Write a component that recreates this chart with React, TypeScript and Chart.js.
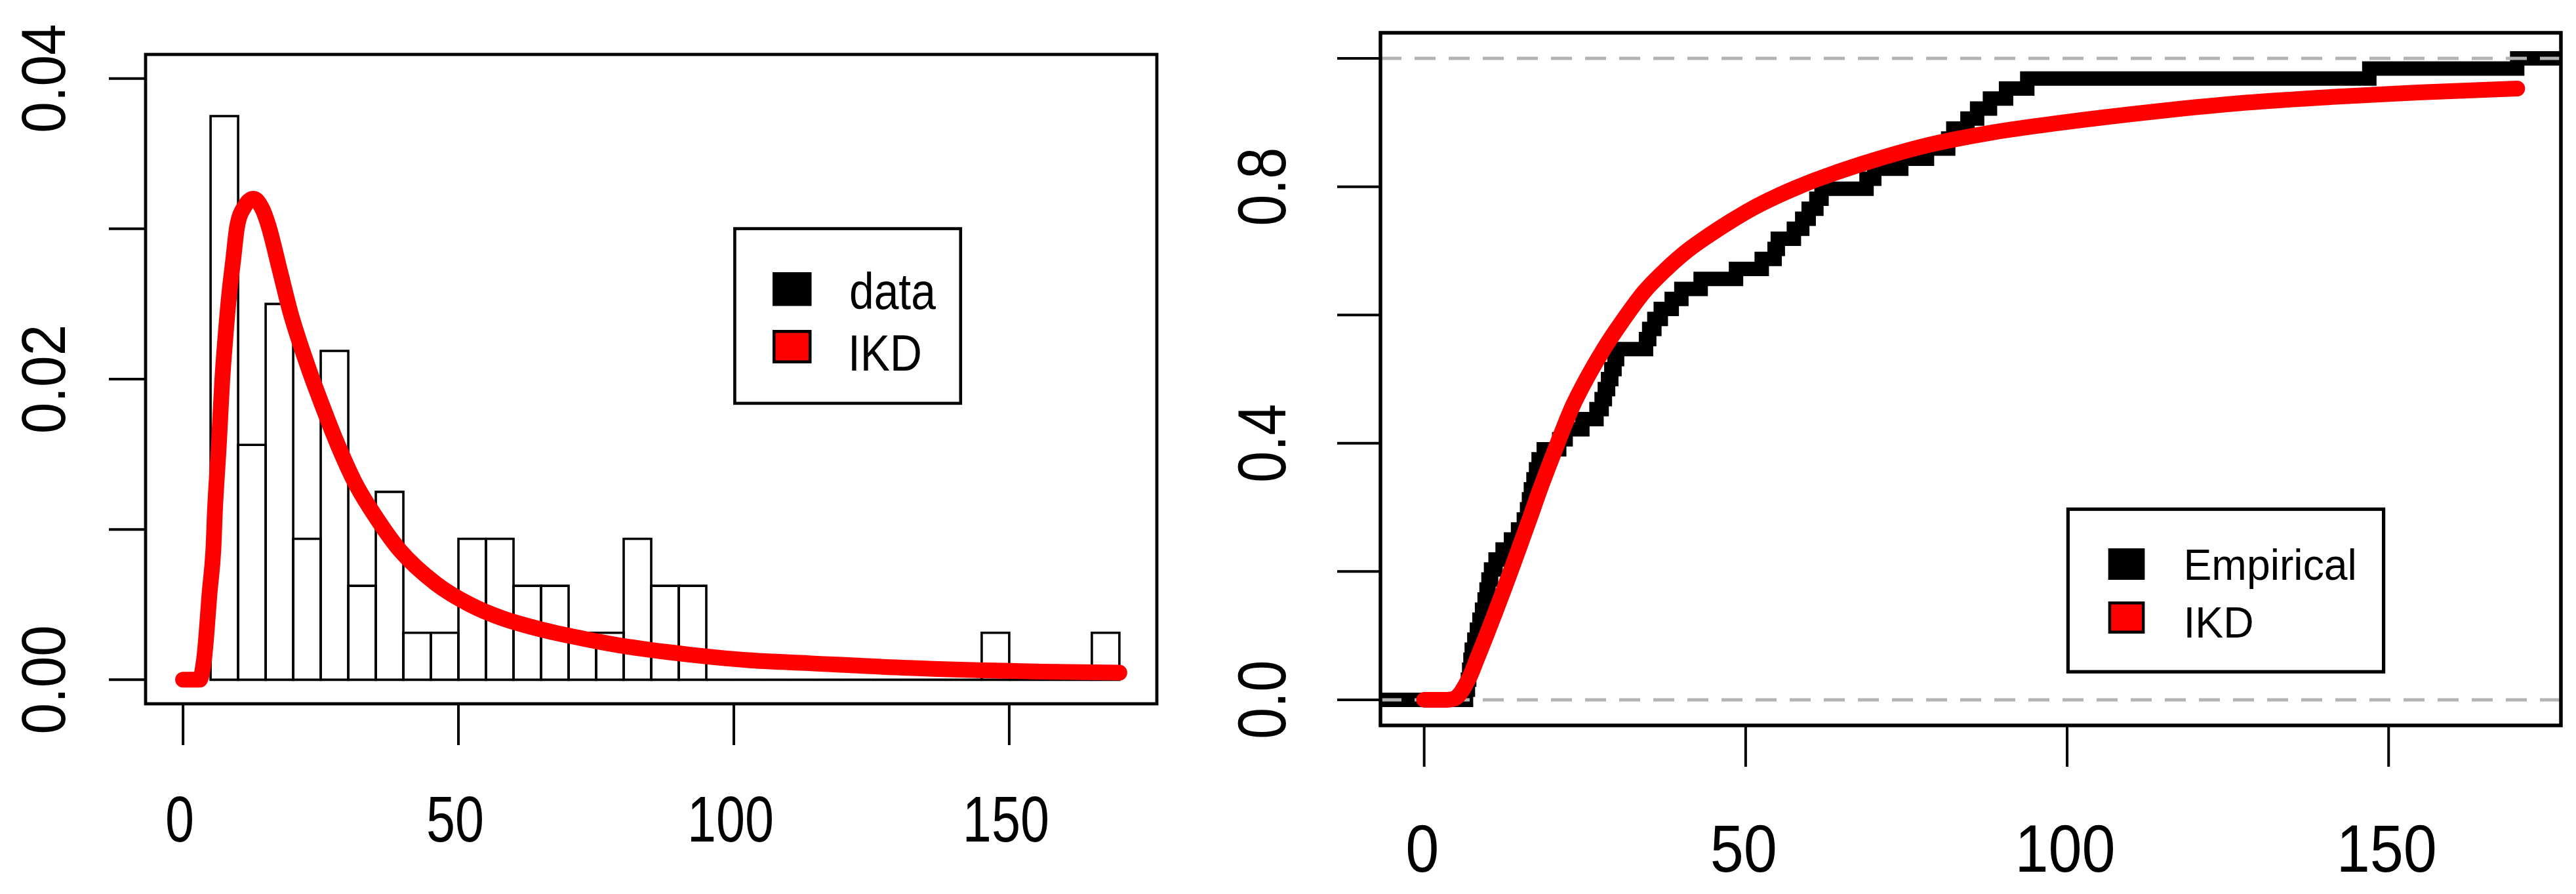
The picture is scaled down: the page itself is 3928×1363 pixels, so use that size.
import React, { useEffect, useRef } from 'react';
import { Chart, registerables } from 'chart.js';

Chart.register(...registerables);

const FONT = '"Liberation Sans", Arial, Helvetica, sans-serif';

// ---------- data: histogram (left panel) ----------
const binEdges = [5, 10, 15, 20, 25, 30, 35, 40, 45, 50, 55, 60, 65, 70, 75, 80, 85, 90, 95, 100, 105, 110, 115, 120, 125, 130, 135, 140, 145, 150, 155, 160, 165, 170];
const binCounts = [12, 5, 8, 3, 7, 2, 4, 1, 1, 3, 3, 2, 2, 1, 1, 3, 2, 2, 0, 0, 0, 0, 0, 0, 0, 0, 0, 0, 1, 0, 0, 0, 1];

// ---------- data: fitted IKD density (left panel) ----------
const pdfX = [0, 3.0, 3.8, 4.2, 4.8, 5.5, 5.8, 6.5, 7.1, 7.7, 8.4, 9.1, 9.8, 11.2, 12.8, 14.3, 15.6, 17.6, 19.6, 22.7, 24.7, 27.9, 31.1, 33.8, 39.4, 45.9, 52.1, 57.9, 65.5, 73.1, 80.7, 93.7, 102.6, 113.6, 130.6, 155.9, 170];
const pdfY = [0, 0, 0.0013, 0.0028, 0.0057, 0.0086, 0.0113, 0.0156, 0.0198, 0.0228, 0.0257, 0.0279, 0.0301, 0.0315, 0.0320, 0.0314, 0.0301, 0.0272, 0.0243, 0.0208, 0.0188, 0.0158, 0.0132, 0.0115, 0.0086, 0.0064, 0.0050, 0.0041, 0.0033, 0.0027, 0.0022, 0.0016, 0.0013, 0.0011, 0.0008, 0.00054, 0.00047];

// ---------- data: observed sample (right panel ECDF) ----------
const sample = [
  6.5, 6.8, 7.0, 7.2, 7.4, 7.8, 8.2, 8.6, 9.0, 9.4, 9.7, 10.0,
  10.4, 11.1, 12.2, 13.5, 14.6,
  15.5, 16.0, 16.3, 16.6, 17.0, 17.4, 17.8, 18.6,
  21.0, 22.0, 24.6,
  26.8, 27.6, 28.1, 28.6, 29.1, 29.6, 30.0,
  34.5, 35.0,
  35.8, 36.8, 38.5, 40.0,
  43.0,
  48.5,
  52.5, 54.5, 55.0,
  57.5, 58.8, 59.8,
  61.0, 61.8,
  68.8, 70.0,
  74.2,
  78.2,
  81.5, 82.3, 84.5,
  86.0, 88.0,
  90.5, 93.8,
  147.0,
  170.0,
];

// ---------- data: fitted IKD CDF (right panel) ----------
const cdfX = [0, 3.5, 4.9, 7.0, 8.3, 9.7, 11.0, 12.4, 13.8, 15.1, 16.5, 17.9, 19.2, 20.9, 23.0, 25.5, 28.0, 30.8, 34.2, 37.6, 40.9, 44.4, 47.8, 51.2, 54.6, 58.0, 60.7, 68.2, 78.4, 88.6, 98.4, 114.4, 127.8, 141.2, 154.5, 170];
const cdfY = [0, 0, 0.003, 0.034, 0.066, 0.101, 0.135, 0.172, 0.21, 0.246, 0.285, 0.325, 0.36, 0.404, 0.456, 0.505, 0.548, 0.590, 0.636, 0.671, 0.700, 0.725, 0.747, 0.767, 0.784, 0.799, 0.81, 0.836, 0.865, 0.885, 0.899, 0.918, 0.931, 0.94, 0.947, 0.953];

// ---------- axes ----------
const xLimits = [-6.8, 176.8];
const densityLimits = [-0.0016, 0.0416];
const probLimits = [-0.04, 1.04];
const xTickValues = [0, 50, 100, 150];
const xTickLabels = ['0', '50', '100', '150'];
const densityTickValues = [0, 0.01, 0.02, 0.03, 0.04];
const densityTickLabels = ['0.00', '', '0.02', '', '0.04'];
const probTickValues = [0, 0.2, 0.4, 0.6, 0.8, 1.0];
const probTickLabels = ['0.0', '', '0.4', '', '0.8', ''];
const refLines = [0, 1];

const legendLeftLabels = ['data', 'IKD'];
const legendRightLabels = ['Empirical', 'IKD'];

const RED = '#FF0000';
const BLACK = '#000000';
const GREY = '#B3B3B3';

function drawLabel(ctx: any, text: string, x: number, y: number, size: number, condense: number, rotated: boolean, align: string) {
  if (!text) return;
  ctx.save();
  ctx.translate(x, y);
  if (rotated) ctx.rotate(-Math.PI / 2);
  ctx.scale(condense, 1);
  ctx.font = `${size}px ${FONT}`;
  ctx.textAlign = align;
  ctx.textBaseline = 'alphabetic';
  ctx.fillStyle = BLACK;
  ctx.fillText(text, 0, 0);
  ctx.restore();
}

function makeRPlugin(cfg: any) {
  return {
    id: 'rstyle',
    afterDatasetDraw(chart: any, args: any) {
      if (cfg.outlineIndex === undefined || args.index !== cfg.outlineIndex) return;
      const ctx = chart.ctx;
      const meta = chart.getDatasetMeta(args.index);
      ctx.save();
      ctx.strokeStyle = BLACK;
      ctx.lineWidth = cfg.outlineWidth;
      ctx.lineJoin = 'miter';
      meta.data.forEach((el: any) => {
        const p = el.getProps(['x', 'y', 'base', 'width'], true);
        const l = p.x - p.width / 2;
        const r = p.x + p.width / 2;
        ctx.beginPath();
        ctx.moveTo(l, p.base);
        ctx.lineTo(l, p.y);
        ctx.lineTo(r, p.y);
        ctx.lineTo(r, p.base);
        ctx.closePath();
        ctx.stroke();
      });
      ctx.restore();
    },
    afterDraw(chart: any) {
      const ctx = chart.ctx;
      const a = chart.chartArea;
      const xs = chart.scales.x;
      const ys = chart.scales.y;
      ctx.save();
      ctx.strokeStyle = BLACK;
      ctx.lineCap = 'butt';
      // plot box
      ctx.lineWidth = cfg.boxWidth;
      ctx.strokeRect(a.left, a.top, a.right - a.left, a.bottom - a.top);
      // x axis ticks + labels
      ctx.lineWidth = cfg.tickWidth;
      cfg.xTicks.forEach((v: number, i: number) => {
        const px = xs.getPixelForValue(v);
        ctx.beginPath();
        ctx.moveTo(px, a.bottom);
        ctx.lineTo(px, a.bottom + cfg.xTickLen);
        ctx.stroke();
        drawLabel(ctx, cfg.xLabels[i], px + cfg.xLabelShift, cfg.xLabelBaseline, cfg.xFont, cfg.xCondense, false, 'center');
      });
      // y axis ticks + labels
      cfg.yTicks.forEach((v: number, i: number) => {
        const py = ys.getPixelForValue(v);
        ctx.beginPath();
        ctx.moveTo(a.left, py);
        ctx.lineTo(a.left - cfg.yTickLen, py);
        ctx.stroke();
        drawLabel(ctx, cfg.yLabels[i], cfg.yLabelBaselineX, py, cfg.yFont, cfg.yCondense, true, 'center');
      });
      // legend
      const lg = cfg.legend;
      ctx.lineWidth = lg.boxWidth;
      ctx.strokeRect(lg.box[0], lg.box[1], lg.box[2] - lg.box[0], lg.box[3] - lg.box[1]);
      lg.rows.forEach((row: any) => {
        const [x1, x2] = lg.swatchX;
        ctx.fillStyle = BLACK;
        ctx.fillRect(x1, row.y1, x2 - x1, row.y2 - row.y1);
        const b = lg.swatchBorder;
        ctx.fillStyle = row.fill;
        ctx.fillRect(x1 + b, row.y1 + b, x2 - x1 - 2 * b, row.y2 - row.y1 - 2 * b);
        drawLabel(ctx, row.label, row.textX, row.baseline, lg.font, lg.condense, false, 'left');
      });
      ctx.restore();
    },
  };
}

function leftConfig() {
  const n = binCounts.reduce((s, c) => s + c, 0);
  const bars = binCounts.map((c, i) => {
    const w = binEdges[i + 1] - binEdges[i];
    return { x: (binEdges[i] + binEdges[i + 1]) / 2, y: c / (n * w) };
  });
  const plugin = makeRPlugin({
    boxWidth: 4.8,
    tickWidth: 4,
    xTicks: xTickValues,
    xLabels: xTickLabels,
    xTickLen: 63,
    xLabelBaseline: 1283,
    xLabelShift: -5,
    xFont: 99,
    xCondense: 0.8,
    yTicks: densityTickValues,
    yLabels: densityTickLabels,
    yTickLen: 56,
    yLabelBaselineX: 99,
    yFont: 95,
    yCondense: 0.9,
    outlineIndex: 1,
    outlineWidth: 3.6,
    legend: {
      box: [1120.4, 348.6, 1464.8, 614.9],
      boxWidth: 4.6,
      swatchX: [1178, 1237.5],
      swatchBorder: 4.6,
      font: 77,
      condense: 0.88,
      rows: [
        { label: legendLeftLabels[0], fill: BLACK, y1: 415, y2: 466.5, textX: 1295, baseline: 471.4 },
        { label: legendLeftLabels[1], fill: RED, y1: 503, y2: 554, textX: 1293, baseline: 564.7 },
      ],
    },
  });
  return {
    type: 'line',
    data: {
      datasets: [
        {
          type: 'line',
          label: legendLeftLabels[1],
          data: pdfX.map((x, i) => ({ x, y: pdfY[i] })),
          borderColor: RED,
          backgroundColor: RED,
          borderWidth: 24,
          pointRadius: 0,
          fill: false,
          cubicInterpolationMode: 'monotone',
          borderCapStyle: 'round',
          borderJoinStyle: 'round',
        },
        {
          type: 'bar',
          label: legendLeftLabels[0],
          data: bars,
          backgroundColor: 'rgba(0,0,0,0)',
          borderWidth: 0,
          barPercentage: 1,
          categoryPercentage: 1,
        },
      ],
    },
    options: {
      animation: false,
      responsive: false,
      devicePixelRatio: 1,
      events: [],
      layout: { padding: { left: 222, top: 83, right: 1850 - 1764, bottom: 1363 - 1073 } },
      scales: {
        x: { type: 'linear', min: xLimits[0], max: xLimits[1], display: false, offset: false },
        y: { type: 'linear', min: densityLimits[0], max: densityLimits[1], display: false },
      },
      plugins: { legend: { display: false }, tooltip: { enabled: false }, title: { display: false } },
    },
    plugins: [plugin],
  };
}

function rightConfig() {
  const n = sample.length;
  const sorted = [...sample].sort((a, b) => a - b);
  const ecdf = [
    { x: xLimits[0], y: 0 },
    ...sorted.map((v, i) => ({ x: v, y: (i + 1) / n })),
    { x: xLimits[1], y: 1 },
  ];
  const plugin = makeRPlugin({
    boxWidth: 5.5,
    tickWidth: 4,
    xTicks: xTickValues,
    xLabels: xTickLabels,
    xTickLen: 63,
    xLabelBaseline: 1329,
    xLabelShift: -3,
    xFont: 102,
    xCondense: 0.9,
    yTicks: probTickValues,
    yLabels: probTickLabels,
    yTickLen: 66,
    yLabelBaselineX: 110,
    yFont: 103,
    yCondense: 0.84,
    legend: {
      box: [1303.4, 776.3, 1784.6, 1024.2],
      boxWidth: 5.2,
      swatchX: [1364.7, 1420.4],
      swatchBorder: 4.5,
      font: 67,
      condense: 0.96,
      rows: [
        { label: legendRightLabels[0], fill: BLACK, y1: 836, y2: 884, textX: 1479.4, baseline: 883.8 },
        { label: legendRightLabels[1], fill: RED, y1: 917, y2: 966, textX: 1479.4, baseline: 971.8 },
      ],
    },
  });
  const refDatasets = refLines.map((v) => ({
    type: 'line',
    label: 'ref' + v,
    data: [{ x: xLimits[0], y: v }, { x: xLimits[1], y: v }],
    borderColor: GREY,
    borderWidth: 5,
    borderDash: [32, 20],
    pointRadius: 0,
    fill: false,
  }));
  return {
    type: 'line',
    data: {
      datasets: [
        {
          type: 'line',
          label: legendRightLabels[1],
          data: cdfX.map((x, i) => ({ x, y: cdfY[i] })),
          borderColor: RED,
          backgroundColor: RED,
          borderWidth: 24,
          pointRadius: 0,
          fill: false,
          cubicInterpolationMode: 'monotone',
          borderCapStyle: 'round',
          borderJoinStyle: 'round',
        },
        ...refDatasets,
        {
          type: 'line',
          label: legendRightLabels[0],
          data: ecdf,
          borderColor: BLACK,
          backgroundColor: BLACK,
          borderWidth: 22,
          pointRadius: 0,
          fill: false,
          stepped: 'before',
          borderCapStyle: 'butt',
          borderJoinStyle: 'miter',
        },
      ],
    },
    options: {
      animation: false,
      responsive: false,
      devicePixelRatio: 1,
      events: [],
      layout: { padding: { left: 2105 - 1850, top: 50, right: 3928 - 3905, bottom: 1363 - 1106 } },
      scales: {
        x: { type: 'linear', min: xLimits[0], max: xLimits[1], display: false, offset: false },
        y: { type: 'linear', min: probLimits[0], max: probLimits[1], display: false },
      },
      plugins: { legend: { display: false }, tooltip: { enabled: false }, title: { display: false } },
    },
    plugins: [plugin],
  };
}

function ChartCanvas(props: { left: number; width: number; height: number; make: () => any }) {
  const ref = useRef<HTMLCanvasElement | null>(null);
  useEffect(() => {
    const chart = new Chart(ref.current as HTMLCanvasElement, props.make());
    return () => chart.destroy();
  }, []);
  return (
    <canvas
      ref={ref}
      width={props.width}
      height={props.height}
      style={{ position: 'absolute', left: props.left, top: 0, width: props.width, height: props.height, display: 'block' }}
    />
  );
}

export default function App() {
  return (
    <div style={{ position: 'fixed', left: 0, top: 0, width: 3928, height: 1363, background: '#ffffff', overflow: 'hidden' }}>
      <ChartCanvas left={0} width={1850} height={1363} make={leftConfig} />
      <ChartCanvas left={1850} width={2078} height={1363} make={rightConfig} />
    </div>
  );
}
